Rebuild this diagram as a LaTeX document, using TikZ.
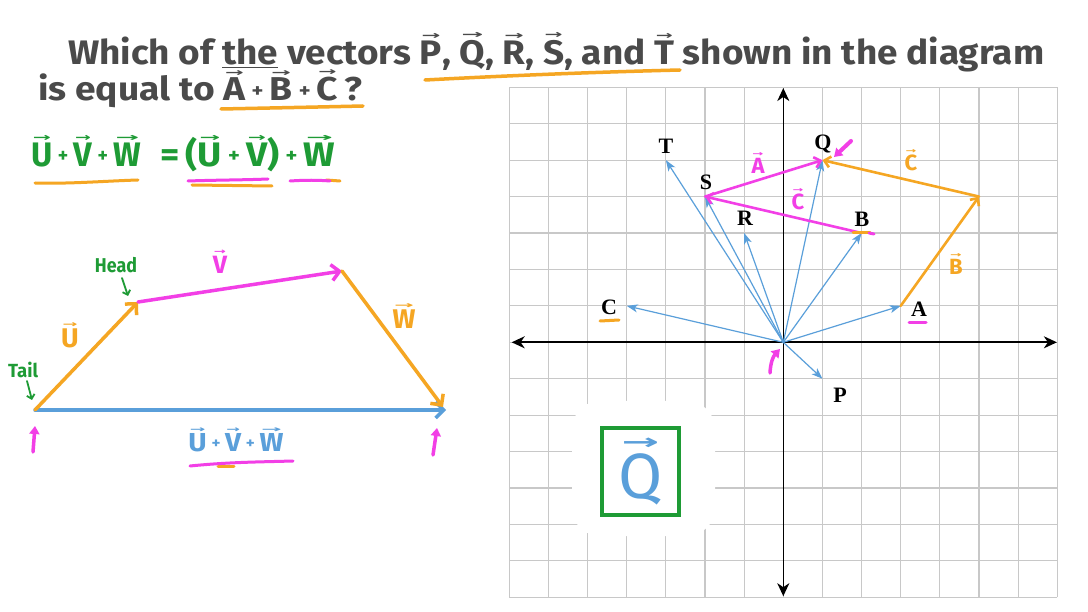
\documentclass[tikz,border=0pt]{standalone}
\usepackage{fontspec}
\usepackage{graphicx}
\setmainfont{Fira Sans}
\newfontfamily\lblfont{Liberation Serif}
\newfontfamily\arrfont{DejaVu Sans}
\usetikzlibrary{arrows.meta}
\definecolor{ink}{HTML}{4A4A4A}
\definecolor{orng}{HTML}{F5A623}
\definecolor{pnk}{HTML}{F23FE6}
\definecolor{grn}{HTML}{1E9B35}
\definecolor{blu}{HTML}{5A9FDA}
\definecolor{gridc}{HTML}{C8C8C8}
\newcommand\hv[1]{\leavevmode\setbox0\hbox{#1}\vbox{\offinterlineskip\halign{\hfil##\hfil\cr\resizebox{0.85\wd0}{0.18em}{\arrfont\bfseries →}\cr\noalign{\kern0.06em}\box0\cr}}}
\newcommand\pl{\,\raisebox{0.12em}{\scalebox{0.6}{+}}\,}
\newcommand\fitt[3]{\resizebox{#1}{\height}{\fontsize{#2}{#2}\selectfont #3}}
\begin{document}
\begin{tikzpicture}[x=1pt,y=-1pt,
  gridline/.style={draw=gridc, line width=1.2pt},
  axisline/.style={black, line width=1.6pt, {Stealth[length=13pt,width=12pt,inset=4pt]}-{Stealth[length=13pt,width=12pt,inset=4pt]}},
  bvec/.style={draw=blu, line width=1.2pt, -{Stealth[length=11pt,width=8pt,inset=3pt]}},
  hvec/.style={line width=3.5pt, line cap=round, -{Straight Barb[length=8pt,width=16pt]}},
  gvec/.style={line width=2.6pt, line cap=round, -{Straight Barb[length=6pt,width=11pt]}},
  lbl/.style={font=\lblfont\bfseries\fontsize{22}{22}\selectfont, inner sep=0pt},
  hand/.style={inner sep=0pt, font=\bfseries},
  uline/.style={line width=3.5pt, line cap=round},
  pointer/.style={pnk, line width=3.5pt, line cap=round, -{Triangle[length=8pt,width=10pt]}},
]
\fill[white] (0,0) rectangle (1088,612);
\useasboundingbox (0,0) rectangle (1088,612);

% ---------- title ----------
\node[hand, anchor=base west, text=ink] (title1) at (68,65)
  {\fitt{976pt}{34}{Which of \underline{the} vectors \hv{P}, \hv{Q}, \hv{R}, \hv{S}, and \hv{T} shown in the diagram}};
\node[hand, anchor=base west, text=ink] (title2) at (38,101)
  {\fitt{324pt}{33}{is equal to \hv{A}\pl\hv{B}\pl\hv{C}\,?}};
\draw[uline, orng] (425,80) .. controls (520,75) and (600,72) .. (680,70);
\draw[uline, orng] (221,109) .. controls (270,108) and (320,107) .. (363,106);

% ---------- left formula ----------
\node[hand, text=grn, anchor=base west] (f1) at (31,167) {\fitt{110pt}{34}{\hv{U}\pl\hv{V}\pl\hv{W}}};
\node[hand, text=grn, anchor=base west] (f2) at (160,167) {\fitt{175pt}{34}{=\,(\hv{U}\pl\hv{V})\pl\hv{W}}};
\draw[uline, orng, line width=3pt] (35,183) .. controls (70,184) and (105,181) .. (138,180);
\draw[uline, orng, line width=3pt] (192,185) -- (272,186);
\draw[uline, pnk, line width=3pt] (188,181) .. controls (215,180) and (245,180) .. (268,179);
\draw[uline, orng, line width=3pt] (326,180) -- (340,181);
\draw[uline, pnk, line width=3pt] (290,181) .. controls (305,180) and (318,180) .. (330,181);

% ---------- left diagram ----------
\coordinate (uT) at (35,410);
\coordinate (uH) at (138,302);
\coordinate (vH) at (342,271);
\coordinate (wH) at (443,407);
\coordinate (sH) at (446,410);
\draw[hvec, blu] (uT) -- (sH);
\draw[hvec, orng] (uT) -- (uH);
\draw[hvec, pnk] (uH) -- (vH);
\draw[hvec, orng] (vH) -- (wH);

\node[hand, text=orng, font=\bfseries\fontsize{27}{27}\selectfont] (lU) at (70,335) {\hv{U}};
\node[hand, text=pnk, font=\bfseries\fontsize{25}{25}\selectfont] (lV) at (220,262) {\hv{V}};
\node[hand, text=orng, font=\bfseries\fontsize{27}{27}\selectfont] (lW) at (404,316) {\hv{W}};
\node[hand, text=grn] (lHead) at (116,265) {\fitt{42pt}{20}{Head}};
\node[hand, text=grn] (lTail) at (23,370) {\fitt{30pt}{19}{Tail}};
\coordinate (hA1) at (122,278); \coordinate (hA2) at (128,296);
\coordinate (tA1) at (27,381);  \coordinate (tA2) at (32,400);
\draw[grn, line width=1.8pt, line cap=round, -{Straight Barb[length=4pt,width=8pt]}] (hA1) -- (hA2);
\draw[grn, line width=1.8pt, line cap=round, -{Straight Barb[length=4pt,width=8pt]}] (tA1) -- (tA2);

\node[hand, text=blu] (lSum) at (236,440) {\fitt{95pt}{26}{\hv{U}\pl\hv{V}\pl\hv{W}}};
\draw[uline, orng, line width=3pt] (218,467) -- (234,467);
\draw[uline, pnk, line width=3pt] (190,466) .. controls (230,462) and (260,462) .. (293,461);
\coordinate (pa1) at (33,452); \coordinate (pa2) at (35,426);
\coordinate (pb1) at (433,455); \coordinate (pb2) at (437,428);
\draw[pointer] (pa1) -- (pa2);
\draw[pointer] (pb1) -- (pb2);

% ---------- grid ----------
\begin{scope}[shift={(783.3,342.3)}, x=39.14pt, y=36.43pt]
  \foreach \i in {-7,...,7} {
    \draw[gridline] (\i,-7) -- (\i,7);
    \draw[gridline] (-7,\i) -- (7,\i);
  }
\end{scope}
\fill[white, rounded corners=28pt] (572,401) rectangle (715,536);
\begin{scope}[shift={(783.3,342.3)}, x=39.14pt, y=36.43pt]
  \coordinate (xl) at (-6.94,0); \coordinate (xr) at (6.99,0);
  \coordinate (yb) at (0,-6.97); \coordinate (yt) at (0,6.98);
  \draw[axisline] (xl) -- (xr);
  \draw[axisline] (yb) -- (yt);
  \coordinate (O) at (0,0);
  \coordinate (pT) at (-3,5);
  \coordinate (pS) at (-2,4);
  \coordinate (pR) at (-1,3);
  \coordinate (pC) at (-4,1);
  \coordinate (pA) at (3,1);
  \coordinate (pB) at (2,3);
  \coordinate (pQ) at (1,5);
  \coordinate (pP) at (1,-1);
  \coordinate (pAB) at (5,4);
  \foreach \t in {pT,pS,pR,pC,pA,pB,pQ,pP} \draw[bvec] (O) -- (\t);
  \draw[gvec, orng] (pA) -- (pAB);
  \draw[gvec, orng] (pAB) -- (pQ);
  \draw[gvec, pnk] (pB) -- (pS);
  \draw[gvec, pnk] (pS) -- (pQ);
\end{scope}

% labels
\node[lbl] (lT) at (666,146) {T};
\node[lbl] (lS) at (706,182) {S};
\node[lbl] (lR) at (745,218) {R};
\node[lbl] (lC) at (609,307) {C};
\node[lbl] (lQ) at (823,144) {Q};
\node[lbl] (lB) at (862,219) {B};
\node[lbl] (lA) at (919,309) {A};
\node[lbl] (lP) at (840,395) {P};
\draw[uline, orng, line width=3pt] (600,321) -- (619,320);
\draw[uline, orng, line width=3pt] (853,233) -- (870,233);
\draw[uline, pnk, line width=3pt] (869,233) -- (874,234);
\draw[uline, pnk, line width=3pt] (909,323) -- (926,323);

\node[hand, text=pnk, font=\bfseries\fontsize{22}{22}\selectfont] (vA) at (758,163) {\hv{A}};
\node[hand, text=pnk, font=\bfseries\fontsize{22}{22}\selectfont] (vC1) at (798,199) {\hv{C}};
\node[hand, text=orng, font=\bfseries\fontsize{22}{22}\selectfont] (vC2) at (911,160) {\hv{C}};
\node[hand, text=orng, font=\bfseries\fontsize{22}{22}\selectfont] (vB) at (956,264) {\hv{B}};

\coordinate (qp1) at (851,141); \coordinate (qp2) at (834,157);
\draw[pointer, line width=4pt] (qp1) -- (qp2);
\coordinate (op1) at (770,373); \coordinate (op2) at (780,349);
\draw[pointer] (op1) to[bend left=20] (op2);

% answer box
\node[draw=grn, line width=4pt, minimum width=77pt, minimum height=87pt, inner sep=0pt, text=blu]
  (ans) at (640.5,471.5) {\fontsize{64}{64}\selectfont\hv{Q}};
\end{tikzpicture}
\end{document}
